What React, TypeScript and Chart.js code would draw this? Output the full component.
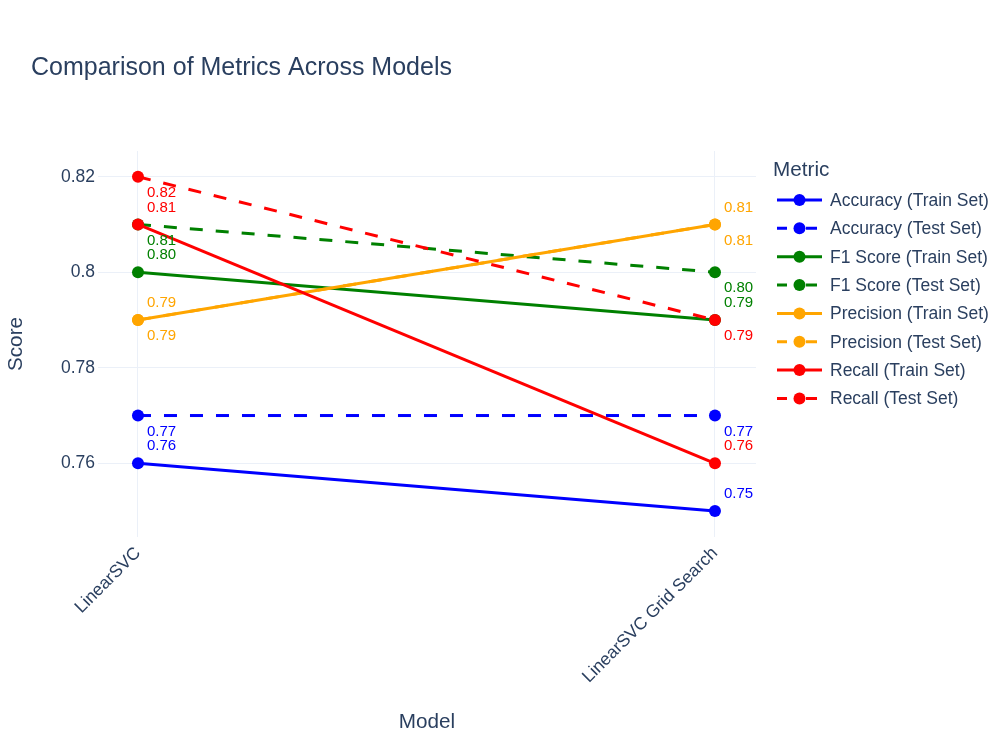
import React, { useEffect, useRef } from "react";
import { Chart, registerables } from "chart.js";

Chart.register(...registerables);

// ---------- data ----------
const models = ["LinearSVC", "LinearSVC Grid Search"];
const accuracyTrain = [0.76, 0.75];
const accuracyTest = [0.77, 0.77];
const f1Train = [0.8, 0.79];
const f1Test = [0.81, 0.8];
const precisionTrain = [0.79, 0.81];
const precisionTest = [0.79, 0.81];
const recallTrain = [0.81, 0.76];
const recallTest = [0.82, 0.79];
const yTickValues = [0.76, 0.78, 0.8, 0.82];

const seriesNames = [
  "Accuracy (Train Set)",
  "Accuracy (Test Set)",
  "F1 Score (Train Set)",
  "F1 Score (Test Set)",
  "Precision (Train Set)",
  "Precision (Test Set)",
  "Recall (Train Set)",
  "Recall (Test Set)",
];
const seriesValues = [
  accuracyTrain,
  accuracyTest,
  f1Train,
  f1Test,
  precisionTrain,
  precisionTest,
  recallTrain,
  recallTest,
];

// ---------- styles ----------
const BLUE = "rgb(0,0,255)";
const GREEN = "rgb(0,128,0)";
const ORANGE = "rgb(255,165,0)";
const RED = "rgb(255,0,0)";
const seriesColors = [BLUE, BLUE, GREEN, GREEN, ORANGE, ORANGE, RED, RED];
const seriesDashed = [false, true, false, true, false, true, false, true];

const FONT = "'Liberation Sans', Arial, Helvetica, sans-serif";
const TEXT = "#2a3f5f";
const GRID = "#EBF0F8";

const overlayPlugin = {
  id: "overlay",
  afterDatasetsDraw(chart: any) {
    const ctx = chart.ctx as CanvasRenderingContext2D;
    ctx.save();
    ctx.font = `15px ${FONT}`;
    ctx.textAlign = "left";
    ctx.textBaseline = "middle";
    chart.data.datasets.forEach((_ds: any, di: number) => {
      const meta = chart.getDatasetMeta(di);
      ctx.fillStyle = seriesColors[di];
      meta.data.forEach((pt: any, i: number) => {
        const v = seriesValues[di][i];
        const dy = seriesDashed[di] ? 16 : -17;
        ctx.fillText(v.toFixed(2), pt.x + 9, pt.y + dy);
      });
    });
    ctx.restore();
  },
  afterDraw(chart: any) {
    const ctx = chart.ctx as CanvasRenderingContext2D;
    ctx.save();
    // title
    ctx.fillStyle = TEXT;
    ctx.font = `25px ${FONT}`;
    ctx.textAlign = "left";
    ctx.textBaseline = "alphabetic";
    ctx.fillText("Comparison of Metrics Across Models", 31, 75);

    // legend
    const lx = 773;
    ctx.font = `20.7px ${FONT}`;
    ctx.textBaseline = "middle";
    ctx.fillText("Metric", lx, 170);
    ctx.font = `17.5px ${FONT}`;
    seriesNames.forEach((name, i) => {
      const y = 200 + i * 28.35;
      const c = seriesColors[i];
      ctx.strokeStyle = c;
      ctx.lineWidth = 3;
      ctx.lineCap = "butt";
      ctx.beginPath();
      if (seriesDashed[i]) {
        ctx.moveTo(777, y);
        ctx.lineTo(787, y);
        ctx.moveTo(806, y);
        ctx.lineTo(817, y);
      } else {
        ctx.moveTo(777, y);
        ctx.lineTo(822, y);
      }
      ctx.stroke();
      ctx.fillStyle = c;
      ctx.beginPath();
      ctx.arc(799.5, y, 6, 0, Math.PI * 2);
      ctx.fill();
      ctx.fillStyle = TEXT;
      ctx.fillText(name, 830, y + 1);
    });
    ctx.restore();
  },
};

export default function App() {
  const canvasRef = useRef<HTMLCanvasElement | null>(null);

  useEffect(() => {
    if (!canvasRef.current) return;
    const datasets = seriesNames.map((name, i) => ({
      label: name,
      data: models.map((_m, j) => ({ x: j, y: seriesValues[i][j] })),
      borderColor: seriesColors[i],
      backgroundColor: seriesColors[i],
      pointBackgroundColor: seriesColors[i],
      pointBorderColor: seriesColors[i],
      pointBorderWidth: 0,
      pointRadius: 6,
      borderWidth: 3,
      borderDash: seriesDashed[i] ? [13, 13] : [],
      fill: false,
      tension: 0,
      // later traces are drawn on top (as in the reference)
      order: seriesNames.length - i,
    }));

    const chart = new Chart(canvasRef.current, {
      type: "line",
      data: { datasets },
      plugins: [overlayPlugin],
      options: {
        animation: false,
        responsive: false,
        devicePixelRatio: 1,
        layout: { padding: { top: 151, right: 244, left: 0, bottom: 0 } },
        plugins: {
          legend: { display: false },
          title: { display: false },
          tooltip: { enabled: false },
        },
        scales: {
          x: {
            type: "linear",
            min: -0.0693,
            max: 1.0711,
            afterBuildTicks: (s: any) => {
              s.ticks = models.map((_m, i) => ({ value: i }));
            },
            afterFit: (s: any) => {
              s.height = 213;
            },
            ticks: {
              callback: (v: any) => models[Math.round(Number(v))] ?? "",
              minRotation: 45,
              maxRotation: 45,
              autoSkip: false,
              padding: 6,
              color: TEXT,
              font: { family: FONT, size: 17.5 },
            },
            grid: { color: GRID, lineWidth: 1, drawTicks: false },
            border: { display: false },
            title: {
              display: true,
              text: "Model",
              color: TEXT,
              font: { family: FONT, size: 20.7 },
              padding: { top: 0, bottom: 15 },
            },
          },
          y: {
            type: "linear",
            min: 0.74457,
            max: 0.82538,
            afterBuildTicks: (s: any) => {
              s.ticks = yTickValues.map((v) => ({ value: v }));
            },
            afterFit: (s: any) => {
              s.width = 98;
            },
            ticks: {
              callback: (v: any) => String(Number(Number(v).toFixed(2))),
              padding: 3,
              color: TEXT,
              font: { family: FONT, size: 17.5 },
            },
            grid: { color: GRID, lineWidth: 1, drawTicks: false },
            border: { display: false },
            title: {
              display: true,
              text: "Score",
              color: TEXT,
              font: { family: FONT, size: 20.7 },
              padding: { top: 4, bottom: 0 },
            },
          },
        },
      },
    });
    return () => chart.destroy();
  }, []);

  return (
    <div style={{ position: "absolute", left: 0, top: 0, width: 1000, height: 750, background: "#fff" }}>
      <canvas ref={canvasRef} width={1000} height={750} style={{ width: 1000, height: 750, display: "block" }} />
    </div>
  );
}
